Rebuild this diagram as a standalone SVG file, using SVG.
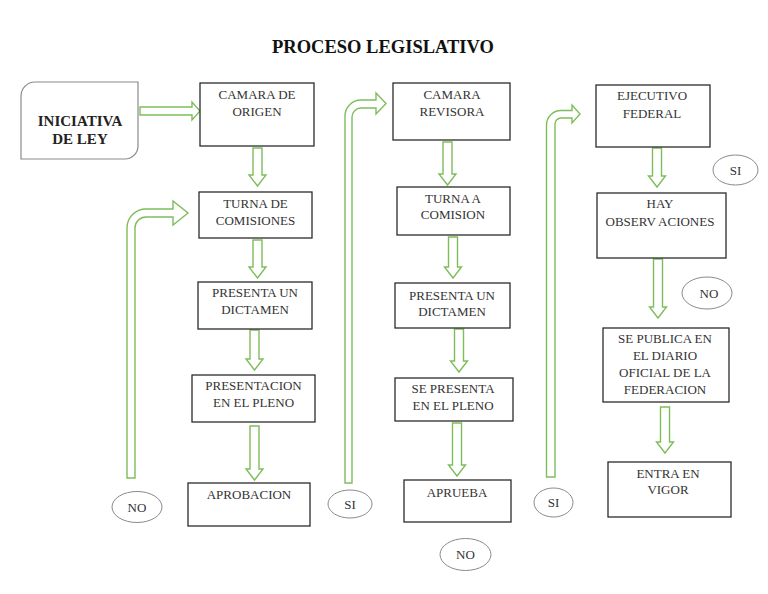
<svg xmlns="http://www.w3.org/2000/svg" width="768" height="594" viewBox="0 0 768 594">
<style>
.bg{fill:#ffffff}
.box{fill:#ffffff;stroke:#2b2b2b;stroke-width:1.3}
.oval{fill:#ffffff;stroke:#8a8a8a;stroke-width:1}
.arr{fill:#ffffff;stroke:#7fbd5c;stroke-width:1.4;stroke-linejoin:miter}
.t{font-size:13px;fill:#333333;text-anchor:middle}
.title{font-size:18.5px;font-weight:bold;fill:#111111;text-anchor:middle}
.tb{font-size:15px;font-weight:bold;fill:#222222;text-anchor:middle}
</style>
<rect class="bg" x="0" y="0" width="768" height="594"/>
<g font-family="Liberation Serif, Times New Roman, serif">
<text class="title" x="383" y="53">PROCESO LEGISLATIVO</text>

<g id="connectors">
<path class="arr" d="M140,107 H192 V102 L200,111 L192,120 V115 H140 Z"/>
<path class="arr" d="M253,148 H262 V175 H266 L257.5,186 L249,175 H253 Z"/>
<path class="arr" d="M253,240 H262 V267 H266 L257.5,278 L249,267 H253 Z"/>
<path class="arr" d="M250,330 H259 V359 H263 L254.5,370 L246,359 H250 Z"/>
<path class="arr" d="M250,426 H259 V469 H263 L254.5,480 L246,469 H250 Z"/>
<path class="arr" d="M443,142 H452 V174 H456 L447.5,185 L439,174 H443 Z"/>
<path class="arr" d="M448.5,237 H457.5 V267 H461.5 L453,278 L444.5,267 H448.5 Z"/>
<path class="arr" d="M454.5,329 H463.5 V361 H467.5 L459,372 L450.5,361 H454.5 Z"/>
<path class="arr" d="M452.5,423 H461.5 V465 H465.5 L457,476 L448.5,465 H452.5 Z"/>
<path class="arr" d="M652.5,148 H661.5 V176 H665.5 L657,187 L648.5,176 H652.5 Z"/>
<path class="arr" d="M653.5,259 H662.5 V307 H666.5 L658,318 L649.5,307 H653.5 Z"/>
<path class="arr" d="M660.5,407 H669.5 V442 H673.5 L665,453 L656.5,442 H660.5 Z"/>
<path class="arr" d="M127,478 V228 A19,19 0 0 1 146,209 H173 V201 L188,213 L173,225 V217 H146 A11,11 0 0 0 135,228 V478 Z"/>
<path class="arr" d="M345,483 V116 A16,16 0 0 1 361,100 H376 V93 L386,103.5 L376,114 V108 H361 A9,9 0 0 0 352,117 V483 Z"/>
<path class="arr" d="M546.5,477 V125 A14.5,14.5 0 0 1 561,110.5 H572 V105 L580,114 L572,123 V118 H561 A6,6 0 0 0 555,124 V477 Z"/>
</g>

<g id="iniciativa">
<path d="M35,82 H138 V146 A13,13 0 0 1 125,159 H21 V96 A14,14 0 0 1 35,82 Z" fill="#ffffff" stroke="#8a8a8a" stroke-width="1.2"/>
<text class="tb" x="80" y="126">INICIATIVA</text>
<text class="tb" x="80" y="144">DE LEY</text>
</g>

<g id="camara-origen">
<rect class="box" x="200" y="83" width="114" height="63"/>
<text class="t" x="257" y="98.5">CAMARA DE</text>
<text class="t" x="257" y="115.5">ORIGEN</text>
</g>
<g id="turna-comisiones">
<rect class="box" x="199" y="192" width="113" height="46"/>
<text class="t" x="255.5" y="207.5">TURNA DE</text>
<text class="t" x="255.5" y="224.5">COMISIONES</text>
</g>
<g id="dictamen-1">
<rect class="box" x="198" y="282" width="114" height="47"/>
<text class="t" x="255" y="296.5">PRESENTA UN</text>
<text class="t" x="255" y="313.5">DICTAMEN</text>
</g>
<g id="presentacion-pleno">
<rect class="box" x="192" y="375" width="123" height="47"/>
<text class="t" x="253.5" y="389.5">PRESENTACION</text>
<text class="t" x="253.5" y="406.5">EN EL PLENO</text>
</g>
<g id="aprobacion">
<rect class="box" x="188" y="483" width="122" height="43"/>
<text class="t" x="249" y="498.5">APROBACION</text>
</g>
<g id="no-1">
<ellipse class="oval" cx="137" cy="507" rx="25" ry="15.5"/>
<text class="t" x="137" y="511.5">NO</text>
</g>
<g id="si-1">
<ellipse class="oval" cx="350" cy="504" rx="22" ry="14"/>
<text class="t" x="350" y="508.5">SI</text>
</g>

<g id="camara-revisora">
<rect class="box" x="393" y="83" width="117" height="57"/>
<text class="t" x="452" y="98.5">CAMARA</text>
<text class="t" x="452" y="115.5">REVISORA</text>
</g>
<g id="turna-comision">
<rect class="box" x="397" y="187" width="113" height="48"/>
<text class="t" x="453" y="202.5">TURNA A</text>
<text class="t" x="453" y="218.5">COMISION</text>
</g>
<g id="dictamen-2">
<rect class="box" x="395" y="283" width="115" height="45"/>
<text class="t" x="452" y="299.5">PRESENTA UN</text>
<text class="t" x="452" y="315.5">DICTAMEN</text>
</g>
<g id="se-presenta-pleno">
<rect class="box" x="395" y="378" width="118" height="43"/>
<text class="t" x="453" y="392.5">SE PRESENTA</text>
<text class="t" x="453" y="409.5">EN EL PLENO</text>
</g>
<g id="aprueba">
<rect class="box" x="404" y="480" width="107" height="42"/>
<text class="t" x="457" y="496.5">APRUEBA</text>
</g>
<g id="no-2">
<ellipse class="oval" cx="465.5" cy="554.5" rx="25.5" ry="16"/>
<text class="t" x="465.5" y="559">NO</text>
</g>
<g id="si-2">
<ellipse class="oval" cx="553.5" cy="502.5" rx="19.5" ry="14.5"/>
<text class="t" x="553.5" y="507">SI</text>
</g>

<g id="ejecutivo-federal">
<rect class="box" x="596" y="85" width="114" height="62"/>
<text class="t" x="652" y="99.5">EJECUTIVO</text>
<text class="t" x="652" y="117.5">FEDERAL</text>
</g>
<g id="si-3">
<ellipse class="oval" cx="735.5" cy="170" rx="22.5" ry="15"/>
<text class="t" x="735.5" y="174.5">SI</text>
</g>
<g id="hay-observaciones">
<rect class="box" x="597" y="193" width="129" height="65"/>
<text class="t" x="660" y="207.5">HAY</text>
<text class="t" x="660" y="225.5">OBSERV ACIONES</text>
</g>
<g id="no-3">
<ellipse class="oval" cx="707" cy="293" rx="25" ry="16"/>
<text class="t" x="709" y="297.5">NO</text>
</g>
<g id="se-publica">
<rect class="box" x="603" y="328" width="126" height="74"/>
<text class="t" x="665" y="342.5">SE PUBLICA EN</text>
<text class="t" x="665" y="359.5">EL DIARIO</text>
<text class="t" x="665" y="376.5">OFICIAL DE LA</text>
<text class="t" x="665" y="393.5">FEDERACION</text>
</g>
<g id="entra-vigor">
<rect class="box" x="608" y="462" width="123" height="55"/>
<text class="t" x="668" y="477.5">ENTRA EN</text>
<text class="t" x="668" y="493.5">VIGOR</text>
</g>
</g>
</svg>
